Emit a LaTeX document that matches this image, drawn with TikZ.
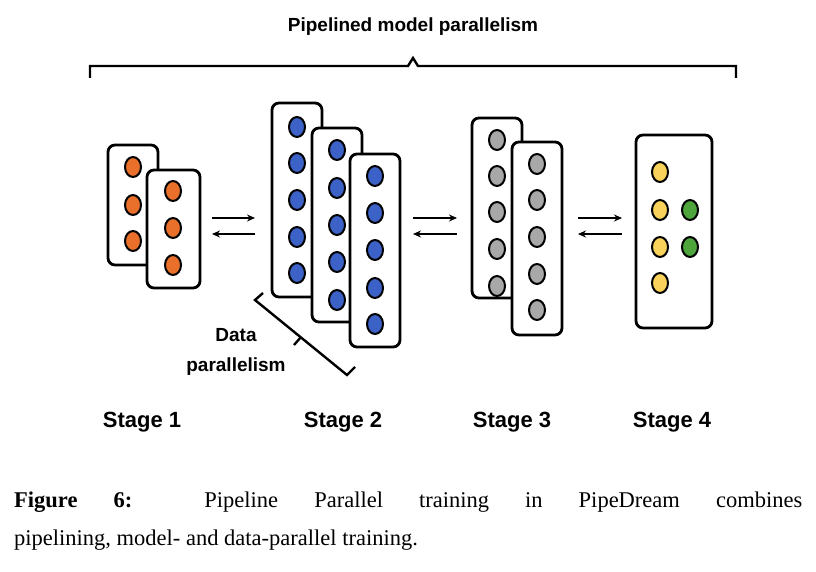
\documentclass[tikz,border=0pt]{standalone}
\usepackage{fontspec}
\setmainfont{Liberation Serif}
\newfontfamily\lsans{Liberation Sans}
\usetikzlibrary{arrows.meta,shapes.geometric}
\definecolor{corange}{HTML}{E8702A}
\definecolor{cblue}{HTML}{3C62C8}
\definecolor{cgray}{HTML}{A8A8A8}
\definecolor{cyellow}{HTML}{F8D25A}
\definecolor{cgreen}{HTML}{4EA53C}
\begin{document}
\begin{tikzpicture}[x=1pt,y=-1pt,
  box/.style={draw,line width=2.8pt,rounded corners=7pt,fill=white},
  unit/.style={draw,line width=2pt,ellipse,minimum width=16pt,minimum height=20pt,inner sep=0pt},
  lbl/.style={font=\lsans\bfseries\fontsize{22}{26}\selectfont},
  arr/.style={line width=1.8pt,-{Stealth[length=8pt,width=7pt]}}]
\useasboundingbox (0,0) rectangle (816,572);
% Title and brace
\node[lbl,font=\lsans\bfseries\fontsize{19}{22}\selectfont] (title) at (413,27) {Pipelined model parallelism};
\draw[line width=2.4pt] (90,78) -- (90,66) -- (408,66) -- (413,58) -- (418,66) -- (736,66) -- (736,78);
% Stage 1
\draw[box] (108,145) rectangle (158,265);
\foreach \y in {167,205,241} \node[unit,fill=corange] at (133,\y) {};
\draw[box] (147,170) rectangle (200,288);
\foreach \y in {191,228,265} \node[unit,fill=corange] at (173,\y) {};
% Stage 2
\draw[box] (272,103) rectangle (322,297);
\foreach \y in {127,163,200,237,273} \node[unit,fill=cblue] at (297,\y) {};
\draw[box] (312,128) rectangle (362,322);
\foreach \y in {150,188,225,262,300} \node[unit,fill=cblue] at (337,\y) {};
\draw[box] (350,154) rectangle (400,347);
\foreach \y in {176,213,250,288,324} \node[unit,fill=cblue] at (375,\y) {};
% Data parallelism bracket
\draw[line width=2.4pt] (263,293) -- (255,300) -- (347,375) -- (355,367);
\draw[line width=2.4pt] (301,337) -- (294,345);
\node[lbl,align=center,font=\lsans\bfseries\fontsize{19}{30}\selectfont] (dp) at (236,352) {Data\\parallelism};
% Stage 3
\draw[box] (472,118) rectangle (522,298);
\foreach \y in {140,176,212,249,286} \node[unit,fill=cgray] at (497,\y) {};
\draw[box] (512,142) rectangle (562,335);
\foreach \y in {164,200,237,274,310} \node[unit,fill=cgray] at (537,\y) {};
% Stage 4
\draw[box] (636,135) rectangle (712,328);
\foreach \y in {172,210,247,283} \node[unit,fill=cyellow] at (660,\y) {};
\foreach \y in {210,247} \node[unit,fill=cgreen] at (690,\y) {};
% Arrows
\foreach \a/\b in {212/255,413/457,578/622}{
  \coordinate (l\a) at (\a,218); \coordinate (r\a) at (\b,218);
  \coordinate (m\a) at (\a,234); \coordinate (n\a) at (\b,234);
  \draw[arr] (l\a) -- (r\a);
  \draw[arr] (n\a) -- (m\a);
}
% Stage labels
\node[lbl] (s1) at (142,422) {Stage 1};
\node[lbl] (s2) at (343,422) {Stage 2};
\node[lbl] (s3) at (512,422) {Stage 3};
\node[lbl] (s4) at (672,422) {Stage 4};
% Caption
\node[anchor=north west,inner sep=0pt,text width=788pt,align=justify,font=\fontsize{22.5}{38}\selectfont] (cap) at (14,492)
{\textbf{Figure 6:}\ \ Pipeline Parallel training in PipeDream combines\linebreak pipelining, model- and data-parallel training.};
\end{tikzpicture}
\end{document}
